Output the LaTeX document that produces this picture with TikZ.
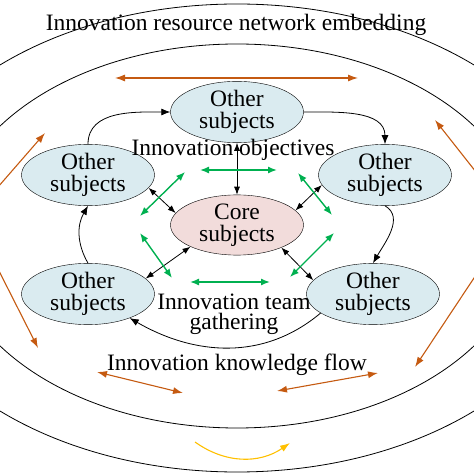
\documentclass[tikz,border=0pt]{standalone}
\usepackage{fontspec}
\setmainfont{Liberation Serif}
\usetikzlibrary{arrows.meta,shapes,positioning}
\definecolor{subjblue}{RGB}{218,235,240}
\definecolor{corepink}{RGB}{242,220,219}
\definecolor{flowgreen}{RGB}{0,176,80}
\definecolor{flowbrown}{RGB}{197,90,17}
\definecolor{flowgold}{RGB}{255,192,0}

\begin{document}
\begin{tikzpicture}
			[x=1pt, y=1pt,
			subject/.style={ellipse, draw, fill=subjblue, minimum width=133pt, minimum height=56pt, inner sep=0pt, align=center, font=\fontsize{23.5}{22}\selectfont},
			core/.style={subject, fill=corepink},
			caption/.style={align=center, inner sep=0pt, font=\fontsize{23.5}{20}\selectfont},
			link/.style={-{Latex[length=9pt,width=7pt]}, line width=0.8pt},
			duallink/.style={{Latex[length=8pt,width=6pt]}-{Latex[length=8pt,width=6pt]}, line width=0.8pt},
			greenlink/.style={{Latex[length=9pt,width=7pt]}-{Latex[length=9pt,width=7pt]}, flowgreen, line width=1.4pt},
			brownlink/.style={-{Latex[length=10pt,width=7pt]}, flowbrown, line width=1.1pt},
			brownduallink/.style={brownlink, {Latex[length=10pt,width=7pt]}-{Latex[length=10pt,width=7pt]}},]
			\clip (0,0) rectangle (474,474);
			\draw[line width=0.8pt] (237,236) ellipse [x radius=352, y radius=234];
			\draw[line width=0.8pt] (237,238) ellipse [x radius=289, y radius=192];

			\node[subject] (T) at (237,362) {Other\\subjects};
			\node[subject] (LU) at (88,299) {Other\\subjects};
			\node[subject] (RU) at (385,299) {Other\\subjects};
			\node[core] (C) at (237,249) {Core\\subjects};
			\node[subject] (LL) at (88,180) {Other\\subjects};
			\node[subject] (RL) at (373,180) {Other\\subjects};

			\node[caption] (title) at (236,449) {Innovation resource network embedding};
			\node[caption] (flow) at (237,109) {Innovation knowledge flow};
			\node[caption] (objectives) at (233,324) {Innovation objectives};
			\node[caption] (team) at (234,160) {Innovation team\\gathering};

			\draw[link] (LU.north) to [out=90,in=180] (T.west);
			\draw[link] (T.east) to [out=0,in=90] (RU.north);
			\draw[link] (RU.south) to [out=-30,in=60] (RL.north);
			\draw[link] (RL.200) to [out=-140,in=-30] (LL.-30);
			\draw[link] (LL.north) to [out=120,in=-120] (LU.south);

			\draw[duallink] (T.south) -- (C.north);
			\draw[duallink] (LU.-12) -- (C.169);
			\draw[duallink] (RU.189) -- (C.14);
			\draw[duallink] (LL.15) -- (C.205);
			\draw[duallink] (RL.167) -- (C.-27);

			\coordinate (g1a) at (200,304); \coordinate (g1b) at (277,304);
			\coordinate (g2a) at (190,192); \coordinate (g2b) at (270,192);
			\coordinate (g3a) at (140,258); \coordinate (g3b) at (185,302);
			\coordinate (g4a) at (140,241); \coordinate (g4b) at (172,196);
			\coordinate (g5a) at (298,301); \coordinate (g5b) at (332,259);
			\coordinate (g6a) at (290,197); \coordinate (g6b) at (334,241);
			\draw[greenlink] (g1a) -- (g1b);
			\draw[greenlink] (g2a) -- (g2b);
			\draw[greenlink] (g3a) -- (g3b);
			\draw[greenlink] (g4a) -- (g4b);
			\draw[greenlink] (g5a) -- (g5b);
			\draw[greenlink] (g6a) -- (g6b);

			\coordinate (o1a) at (115,396); \coordinate (o1b) at (358,396);
			\coordinate (o2a) at (-2,287); \coordinate (o2b) at (45,341);
			\coordinate (o3a) at (-2,205); \coordinate (o3b) at (38,126);
			\coordinate (o4a) at (476,302); \coordinate (o4b) at (435,354);
			\coordinate (o5a) at (476,199); \coordinate (o5b) at (415,107);
			\coordinate (o6a) at (97,102); \coordinate (o6b) at (183,81);
			\coordinate (o7a) at (277,83); \coordinate (o7b) at (378,101);
			\draw[brownduallink] (o1a) -- (o1b);
			\draw[brownlink] (o2a) -- (o2b);
			\draw[brownlink] (o3a) -- (o3b);
			\draw[brownlink] (o4a) -- (o4b);
			\draw[brownlink] (o5a) -- (o5b);
			\draw[brownduallink] (o6a) -- (o6b);
			\draw[brownduallink] (o7a) -- (o7b);

			\coordinate (y1) at (195,32); \coordinate (y2) at (290,31);
			\draw[brownlink, flowgold] (y1) to [bend right=35] (y2);
			\end{tikzpicture}
\end{document}
